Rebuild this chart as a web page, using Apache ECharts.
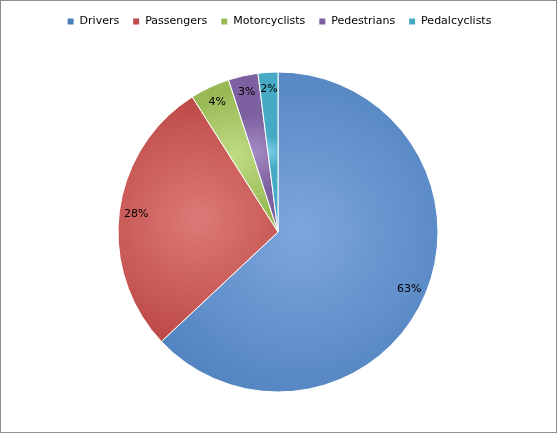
<!DOCTYPE html>
<html>
<head>
<meta charset="utf-8">
<script src="https://cdn.jsdelivr.net/npm/echarts@6/dist/echarts.min.js"></script>
<style>
  html, body { margin: 0; padding: 0; background: #fff; }
  #chart { width: 555px; height: 431px; border: 1px solid #8c8c8c; }
</style>
</head>
<body>
<div id="chart"></div>
<script>
// 数据
const categories = ['Drivers', 'Passengers', 'Motorcyclists', 'Pedestrians', 'Pedalcyclists'];
const values = [63, 28, 4, 3, 2];
const baseColors = ['#4a7ebb', '#be4b48', '#98b954', '#7d60a0', '#46aac5'];
const lightColors = ['#7ea6dd', '#dd7a77', '#c0dc84', '#a48bc4', '#7fd0e6'];

function grad(i) {
    return new echarts.graphic.RadialGradient(0.5, 0.5, 0.75, [
        { offset: 0, color: lightColors[i] },
        { offset: 1, color: baseColors[i] }
    ]);
}

const chart = echarts.init(document.getElementById('chart'));
chart.setOption({
    animation: false,
    legend: {
        top: 10,
        left: 'center',
        itemWidth: 8,
        itemHeight: 8,
        itemGap: 12,
        icon: 'rect',
        textStyle: { fontFamily: 'DejaVu Sans', fontSize: 11, color: '#000' },
        data: categories.map((name, i) => ({ name: name, itemStyle: { color: baseColors[i] } }))
    },
    series: [{
        type: 'pie',
        center: [277, 231],
        radius: 160,
        startAngle: 90,
        clockwise: true,
        label: { show: false },
        itemStyle: { borderColor: '#fff', borderWidth: 1 },
        data: categories.map((name, i) => ({
            name: name,
            value: values[i],
            itemStyle: { color: grad(i) }
        }))
    }, {
        // 标签层：透明环，标签落在半径约140处
        type: 'pie',
        center: [277, 231],
        radius: [120, 160],
        startAngle: 90,
        clockwise: true,
        silent: true,
        legendHoverLink: false,
        itemStyle: { color: 'rgba(0,0,0,0)' },
        labelLayout: { hideOverlap: false },
        label: {
            position: 'inside',
            formatter: '{d}%',
            color: '#000',
            fontFamily: 'DejaVu Sans',
            fontSize: 11
        },
        data: categories.map((name, i) => ({ name: name + ' ', value: values[i] }))
    }]
});
</script>
</body>
</html>
